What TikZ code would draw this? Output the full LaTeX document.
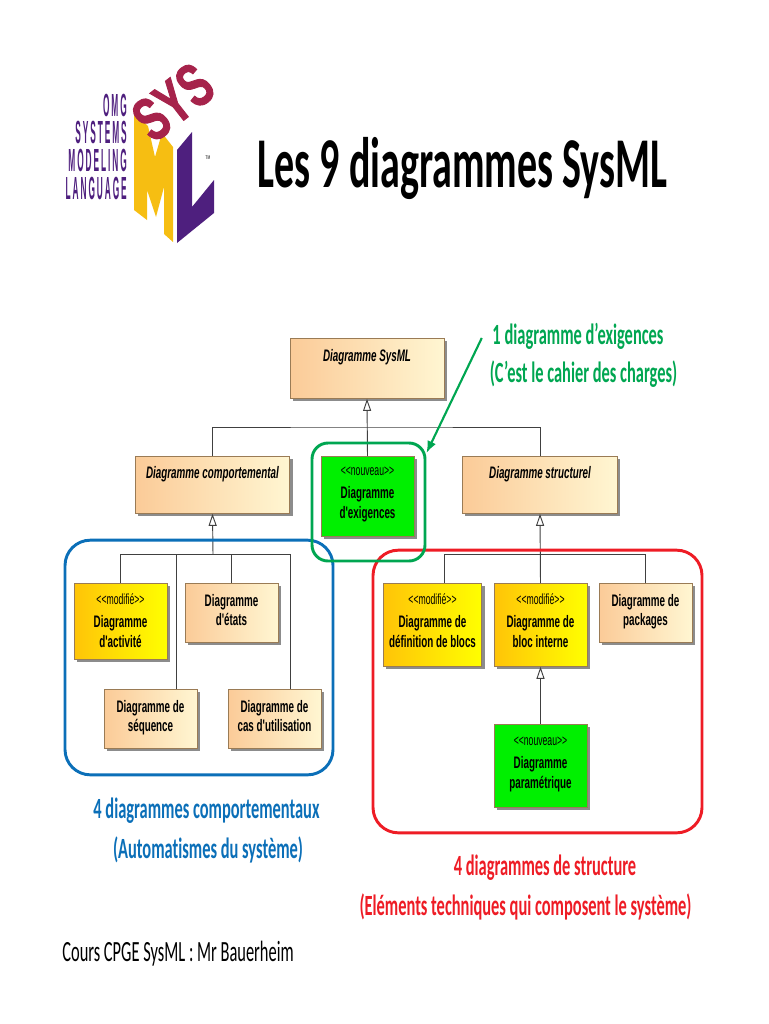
\documentclass[tikz,border=0pt]{standalone}
\usepackage{fontspec}
\usepackage{tikz}
\usetikzlibrary{arrows.meta,positioning,calc,shadows}
\newfontfamily\slidefont[FakeStretch=0.56,Ligatures=NoCommon]{Carlito}
\newfontfamily\umlfont[FakeStretch=0.59]{Liberation Sans}
\newfontfamily\logofont[FakeStretch=0.26,LetterSpace=6]{Liberation Sans}
\newfontfamily\sysfont[FakeStretch=0.67,FakeBold=1.5]{Liberation Sans}
\newcommand{\stereotype}[1]{{\fontsize{11}{14}\selectfont <<#1>>}}
\definecolor{boxedge}{HTML}{9A7B55}
\definecolor{peach}{HTML}{FBCB98}
\definecolor{cream}{HTML}{FFF6D2}
\definecolor{gold}{HTML}{FFC408}
\definecolor{lemon}{HTML}{FFFF00}
\definecolor{vivid}{HTML}{00F000}
\definecolor{exigcol}{HTML}{00A651}
\definecolor{compcol}{HTML}{0B6FB8}
\definecolor{structcol}{HTML}{EE1C25}
\definecolor{logopurple}{HTML}{4E1F7E}
\definecolor{logoyellow}{HTML}{F6BE12}
\definecolor{logored}{HTML}{A6234B}
\begin{document}
\begin{tikzpicture}[
                x=0.75pt, y=-0.75pt,
                font=\umlfont\fontsize{12.5}{14.5}\selectfont,
                box/.style={draw=boxedge, line width=0.6pt, minimum width=69.75pt, inner ysep=0pt, inner xsep=0pt, align=center, anchor=north,
                    drop shadow={shadow xshift=2pt, shadow yshift=-2pt, fill=black!45, opacity=1}},
                plainbox/.style={box, left color=peach, right color=cream},
                modbox/.style={box, left color=gold, right color=lemon},
                newbox/.style={box, fill=vivid},
                link/.style={draw=black!75, line width=0.7pt},
                inherit/.style={link, -{Triangle[open, length=9pt, width=6pt, fill=white]}},
                group/.style={draw, rounded corners=19pt, line width=2.2pt},
                note/.style={font=\slidefont\bfseries\fontsize{22}{24}\selectfont},
                logoline/.style={anchor=east, inner xsep=0pt, text=logopurple, font=\logofont\bfseries\fontsize{24}{24}\selectfont},
            ]
            \useasboundingbox (0,0) rectangle (768,1024);

            % ----- Logo -----
            \fill[logoyellow] (134,113) -- (148,126) -- (155,157) -- (162,133) -- (173,147) -- (173,242)
                -- (164,234) -- (164,187) -- (156,217) -- (147,190) -- (147,220) -- (134,210) -- cycle;
            \fill[logopurple] (177,243) -- (177,150) -- (192,132) -- (192,207) -- (214,180) -- (214,213) -- cycle;
            \node[rotate=38, text=logored, font=\sysfont\bfseries\fontsize{46}{46}\selectfont] (logosys) at (173,102) {SYS};
            \node[logoline] (logoa) at (127,105) {OMG};
            \node[logoline] (logob) at (127,132) {SYSTEMS};
            \node[logoline] (logoc) at (127,160) {MODELING};
            \node[logoline] (logod) at (127,188) {LANGUAGE};
            \node[text=black!70, font=\umlfont\bfseries\fontsize{4}{4}\selectfont] (logotm) at (208,158) {TM};

            % ----- Title -----
            \node[font=\slidefont\bfseries\fontsize{53.6}{55}\selectfont] (titre) at (462.5,168) {Les 9 diagrammes SysML};

            % ----- Top boxes -----
            \node[plainbox, minimum width=115.5pt, minimum height=45pt, text depth=20pt] (sysml) at (367,338)
                {\itshape\bfseries Diagramme SysML};
            \node[plainbox, minimum width=116pt, minimum height=42.75pt, text depth=19pt] (comp) at (212.5,456)
                {\itshape\bfseries Diagramme comportemental};
            \node[newbox, minimum height=60pt, text depth=6pt] (exig) at (367.5,456)
                {\stereotype{nouveau}\\[3pt]\bfseries Diagramme\\\bfseries d'exigences};
            \node[plainbox, minimum width=116pt, minimum height=42.75pt, text depth=19pt] (struct) at (540,456)
                {\itshape\bfseries Diagramme structurel};

            % ----- Left part (comportement) -----
            \node[modbox, minimum height=57pt, text depth=1.5pt] (activite) at (120.5,583)
                {\stereotype{modifié}\\[3pt]\bfseries Diagramme\\\bfseries d'activité};
            \node[plainbox, minimum height=44.25pt, text depth=4.5pt] (etats) at (231.5,583)
                {\bfseries Diagramme\\\bfseries d'états};
            \node[plainbox, minimum height=44.25pt, text depth=4.5pt] (sequence) at (150.5,689)
                {\bfseries Diagramme de\\\bfseries séquence};
            \node[plainbox, minimum height=44.25pt, text depth=4.5pt] (cas) at (274.5,689)
                {\bfseries Diagramme de\\\bfseries cas d'utilisation};

            % ----- Right part (structure) -----
            \node[modbox, minimum width=74pt, minimum height=62.25pt, text depth=6.75pt] (blocs) at (432.5,583)
                {\stereotype{modifié}\\[3pt]\bfseries Diagramme de\\\bfseries définition de blocs};
            \node[modbox, minimum height=62.25pt, text depth=6.75pt] (interne) at (540.5,583)
                {\stereotype{modifié}\\[3pt]\bfseries Diagramme de\\\bfseries bloc interne};
            \node[plainbox, minimum height=44.25pt, text depth=4.5pt] (packages) at (645.5,583)
                {\bfseries Diagramme de\\\bfseries packages};
            \node[newbox, minimum height=62.25pt, text depth=5.25pt] (param) at (540.5,724)
                {\stereotype{nouveau}\\[3pt]\bfseries Diagramme\\\bfseries paramétrique};

            % wiring: top level
            \coordinate (bustop) at (367,427);
            \draw[inherit] (exig.north) -- (sysml.south);
            \draw[link] (comp.north) |- (bustop) -| (struct.north);

            % wiring: comportement
            \coordinate (busleft) at (213,554);
            \draw[inherit] (busleft) -- (comp.south);
            \draw[link] (activite.north) |- (busleft);
            \draw[link] (etats.north) |- (busleft);
            \draw[link] ($(sequence.north)+(26,0)$) |- (busleft);
            \draw[link] ($(cas.north)+(15.5,0)$) |- (busleft);

            % wiring: structure
            \coordinate (busright) at (540,554);
            \draw[inherit] (interne.north) -- (struct.south);
            \draw[link] ($(blocs.north)+(11.5,0)$) |- (busright);
            \draw[link] (packages.north) |- (busright);
            \draw[inherit] (param.north) -- (interne.south);

            % ----- Groups -----
            \node[group, draw=compcol, minimum width=201pt, minimum height=176pt] (grpcomp) at (199,657.5) {};
            \node[group, draw=structcol, minimum width=246.75pt, minimum height=212pt] (grpstruct) at (537.5,691.5) {};
            \node[group, draw=exigcol, rounded corners=12pt, minimum width=84.75pt, minimum height=88.5pt] (grpexig) at (368.5,502) {};

            % ----- Notes -----
            \node[note, text=exigcol] (noteexig) at (578,336) {1 diagramme d’exigences};
            \node[note, text=exigcol] (noteexigb) at (583.5,374) {(C’est le cahier des charges)};
            \node[note, text=compcol] (notecomp) at (206.5,811) {4 diagrammes comportementaux};
            \node[note, text=compcol] (notecompb) at (208,850) {(Automatismes du système)};
            \node[note, text=structcol] (notestruct) at (545,868) {4 diagrammes de structure};
            \node[note, text=structcol] (notestructb) at (525.5,907) {(Eléments techniques qui composent le système)};
            \node[font=\slidefont\fontsize{22}{24}\selectfont] (cours) at (178,954) {Cours CPGE SysML : Mr Bauerheim};

            % note -> exigences group
            \draw[draw=exigcol, line width=1.6pt, -{Latex[length=9pt, width=7pt]}] ($(noteexig.west)+(-6,2)$) -- ($(grpexig.east)+(0,-49)$);
            \end{tikzpicture}
\end{document}
